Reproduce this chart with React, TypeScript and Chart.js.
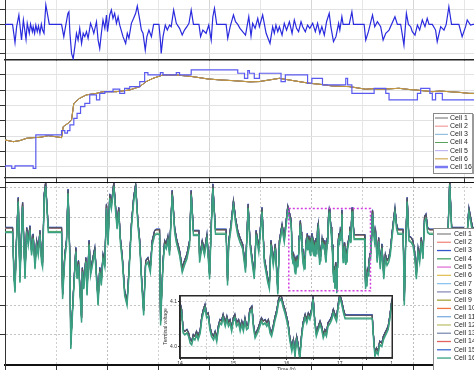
import React, { useEffect, useRef } from "react";
import { Chart, registerables } from "chart.js";

Chart.register(...registerables);
Chart.defaults.font.family = "'Liberation Sans', Arial, sans-serif";

// ---------------- data ----------------
const timeMin = 0;
const timeMax = 24;
const timeGridTicks = [0, 2.5, 5, 7.5, 10, 12.5, 15, 17.5, 20, 22.5];

// Panel 1: pack current (A) vs time (h)
const currentTicks = [-20, -10, 0, 10];
const currentRange = [-24.3, 16.6];
const currentSamples: [number, number][] = [
  [0, 0], [0.37, 0], [0.49, -12.5], [0.57, -1.6], [0.68, 6.4], [0.81, -10.7], [0.9, 3.0], [1.03, -10.2], [1.09, 0.7],
  [1.19, -6.1], [1.25, 0.2], [1.34, -5.0], [1.38, -1.6], [1.45, -6.1], [1.51, -0.5], [1.58, -5.0], [1.64, -1.1], [1.71, -6.1],
  [1.78, 0.2], [1.84, -3.9], [1.91, -6.1], [1.95, 3.0], [2.0, 13.2], [2.17, 0], [2.77, 0], [2.88, -8.4], [2.95, -2.7],
  [3.08, 7.5], [3.13, 8.6], [3.18, -6.1], [3.26, -19.8], [3.34, -23.5], [3.42, -15.2], [3.5, -6.1], [3.58, -10.7], [3.66, -2.7],
  [3.75, -13.0], [3.83, -6.1], [3.91, -8.4], [3.99, -5.0], [4.07, -9.5], [4.19, 0.7], [4.28, -2.7], [4.35, -6.1], [4.48, 1.8],
  [4.56, -10.7], [4.64, -16.4], [4.72, -6.1], [4.8, 3.0], [4.89, -2.7], [4.97, 6.4], [5.02, -5.0], [5.13, 6.4], [5.21, 9.8],
  [5.29, 4.1], [5.37, 7.5], [5.46, 0.7], [5.54, 5.2], [5.62, -0.5], [5.78, -8.4], [5.91, -13.0], [5.99, -6.1], [6.07, -9.5],
  [6.19, 0.7], [6.3, 4.1], [6.4, 7.5], [6.48, 12.5], [6.6, 3.0], [6.68, -3.9], [6.76, -6.1], [6.87, -17.5], [6.95, -8.4],
  [7.05, -3.9], [7.17, -8.4], [7.28, 0], [7.54, 0], [7.61, -10.7], [7.65, -19.8], [7.74, -8.4], [7.85, -0.5], [7.95, -3.9],
  [8.06, -0.5], [8.14, -1.6], [8.26, 9.8], [8.39, 0.7], [8.55, -2.7], [8.68, -7.3], [8.79, -3.9], [8.91, -1.6], [9.01, 0.7],
  [9.12, 9.8], [9.23, 0], [9.5, 0], [9.58, -8.4], [9.69, -3.9], [9.85, -6.1], [9.98, -0.5], [10.1, -10.7], [10.18, 5.2],
  [10.26, 10.9], [10.37, 0], [10.83, 0], [10.91, -9.5], [11.03, -1.6], [11.19, 6.4], [11.29, 1.8], [11.4, 0], [11.51, -2.7],
  [11.64, -5.0], [11.78, -7.3], [11.94, 5.2], [12.05, -8.0], [12.13, 0.7], [12.25, -2.7], [12.38, 4.1], [12.46, -1.6],
  [12.62, 6.4], [12.79, -6.1], [12.98, -13.0], [13.11, -1.6], [13.19, -6.1], [13.27, -0.5], [13.36, -5.0], [13.44, -1.6],
  [13.57, -7.3], [13.68, 0.7], [13.79, -3.9], [13.93, 1.8], [14.06, -6.1], [14.17, 3.0], [14.28, -2.7], [14.38, -5.0],
  [14.5, 1.8], [14.58, -1.6], [14.71, -5.0], [14.82, -0.5], [14.93, -2.7], [15.07, 0.7], [15.2, -5.0], [15.31, 0.7],
  [15.42, -6.1], [15.52, -1.6], [15.64, -7.3], [15.75, 1.8], [15.88, 7.5], [15.96, -1.6], [16.09, -11.8], [16.21, -8.4],
  [16.34, 0.7], [16.4, -3.9], [16.5, 5.2], [16.56, 0], [16.86, 0], [16.99, 8.6], [17.07, 0], [17.59, 0], [17.67, -10.7],
  [17.8, -5.0], [18.0, 6.4], [18.11, -1.6], [18.24, 1.8], [18.4, -1.6], [18.52, -10.7], [18.65, -6.1], [18.81, -3.9],
  [19.1, 5.2], [19.22, 0], [19.38, 0], [19.54, -14.1], [19.66, 7.5], [19.76, 0], [19.87, -1.6], [19.95, -5.0], [20.08, -7.3],
  [20.2, -0.5], [20.31, -3.9], [20.44, 3.0], [20.57, -1.6], [20.68, 4.1], [20.77, 0], [20.93, 0], [21.09, -3.9], [21.17, -11.8],
  [21.34, -1.6], [21.5, -3.9], [21.61, 0], [21.74, 12.0], [21.87, 0], [22.23, 0], [22.39, -8.4], [22.56, -1.6], [22.64, 3.0],
  [22.8, -0.5], [22.92, 0], [24, 0],
];

// Panel 2: cell temperature (°C)
const tempTicks = [24, 25, 26, 27, 28, 29, 30];
const tempRange = [23.28, 30.91];
const tempCellNames = ["Cell 1", "Cell 2", "Cell 3", "Cell 4", "Cell 5", "Cell 6", "Cell 16"];
const tempCellColors = ["#6a6a6a", "#ee8a8a", "#7fb2d8", "#5aa25a", "#b6a8f0", "#c99a3a", "#5a5af0"];
const tempCellsSamples: [number, number][] = [
  [0, 25.76], [0.41, 25.65], [0.73, 25.72], [1.06, 25.87], [1.38, 25.91], [1.71, 25.93], [2.12, 26.04], [2.44, 25.98],
  [2.77, 25.91], [2.85, 26.63], [3.09, 26.85], [3.26, 27.07], [3.37, 28.15], [3.66, 28.48], [3.99, 28.7], [4.48, 28.8],
  [4.8, 28.91], [5.46, 28.91], [6.11, 29.02], [6.6, 29.24], [6.92, 29.57], [7.25, 29.78], [7.74, 30.0], [8.39, 30.0],
  [9.2, 29.89], [9.93, 29.74], [10.5, 29.68], [11.16, 29.63], [12.0, 29.55], [12.46, 29.57], [13.44, 29.78], [13.93, 29.67],
  [14.9, 29.46], [15.5, 29.38], [16.04, 29.28], [16.86, 29.24], [17.67, 29.07], [18.0, 29.1], [18.49, 29.07], [19.3, 29.13],
  [19.8, 29.05], [20.11, 29.02], [20.93, 28.91], [21.3, 28.95], [21.74, 28.91], [22.3, 28.86], [22.72, 28.8], [24, 28.78],
];
const tempCell16Samples: [number, number][] = [
  [0, 23.91], [0.33, 24.07], [0.49, 23.91], [1.38, 24.07], [1.51, 23.91], [2.77, 26.09], [2.93, 26.37], [3.06, 26.2],
  [3.18, 26.37], [3.37, 26.74], [3.53, 27.17], [3.7, 27.5], [3.91, 27.93], [4.15, 28.15], [4.48, 28.7], [4.64, 28.37],
  [4.89, 28.8], [5.29, 28.91], [5.62, 29.07], [5.86, 28.8], [6.11, 29.13], [6.6, 29.24], [6.84, 29.57], [7.0, 30.15],
  [7.61, 30.0], [7.74, 30.15], [8.39, 30.0], [8.55, 30.15], [9.12, 30.0], [11.4, 30.33], [11.73, 30.11], [11.89, 29.78],
  [11.97, 30.28], [12.21, 30.11], [12.46, 29.78], [13.52, 30.11], [13.73, 29.57], [14.82, 30.0], [15.03, 29.46],
  [15.55, 29.78], [16.69, 29.35], [16.78, 29.78], [16.99, 29.35], [18.08, 28.8], [18.65, 29.13], [18.81, 28.8],
  [20.2, 28.37], [20.36, 28.8], [20.81, 29.13], [20.93, 28.8], [21.09, 28.37], [21.42, 28.8], [21.58, 28.37], [24, 28.37],
];

// Panel 3: cell terminal voltage (V)
const voltTicks = [3.9, 3.95, 4.0, 4.05, 4.1, 4.15];
const voltRange = [3.849, 4.16];
const voltageSamples: [number, number][] = [
  [0, 4.081], [0.37, 4.081], [0.44, 4.002], [0.49, 3.979], [0.57, 4.07], [0.65, 4.132], [0.73, 3.996], [0.86, 4.124],
  [0.98, 4.002], [1.06, 4.081], [1.14, 4.059], [1.22, 4.084], [1.3, 4.042], [1.38, 4.07], [1.47, 4.019], [1.55, 4.059],
  [1.63, 4.042], [1.71, 4.076], [1.79, 4.03], [1.84, 4.022], [1.92, 4.138], [1.99, 4.158], [2.12, 4.081], [2.77, 4.081],
  [2.82, 3.968], [2.93, 4.036], [3.01, 4.059], [3.09, 4.146], [3.18, 4.03], [3.22, 3.883], [3.31, 3.945], [3.37, 3.985],
  [3.47, 4.047], [3.53, 4.002], [3.6, 4.025], [3.75, 3.928], [3.79, 4.013], [3.86, 3.985], [3.96, 4.03], [4.02, 3.974],
  [4.12, 4.059], [4.19, 4.008], [4.28, 4.025], [4.4, 4.047], [4.48, 4.002], [4.56, 3.957], [4.64, 4.013], [4.72, 3.991],
  [4.8, 4.036], [4.89, 4.022], [4.97, 4.121], [5.05, 4.059], [5.13, 4.138], [5.21, 4.121], [5.33, 4.158], [5.42, 4.115],
  [5.49, 4.087], [5.57, 4.115], [5.65, 4.064], [5.75, 4.03], [5.86, 3.974], [5.98, 3.957], [6.07, 4.008], [6.19, 4.087],
  [6.3, 4.132], [6.4, 4.155], [6.51, 4.093], [6.6, 4.059], [6.68, 4.002], [6.79, 3.94], [6.89, 4.025], [7.0, 4.03],
  [7.12, 4.013], [7.21, 4.059], [7.33, 4.076], [7.41, 4.078], [7.57, 4.078], [7.62, 3.923], [7.74, 4.025], [7.82, 4.059],
  [7.9, 4.053], [7.98, 4.067], [8.06, 4.042], [8.19, 4.144], [8.31, 4.081], [8.39, 4.064], [8.55, 4.042], [8.68, 4.013],
  [8.79, 4.025], [8.91, 4.036], [9.04, 4.059], [9.12, 4.144], [9.23, 4.076], [9.5, 4.076], [9.53, 4.03], [9.66, 4.059],
  [9.77, 4.042], [9.89, 4.07], [10.02, 4.002], [10.11, 4.093], [10.18, 4.155], [10.31, 4.078], [10.83, 4.078],
  [10.9, 3.991], [10.96, 4.059], [11.07, 4.087], [11.19, 4.127], [11.29, 4.098], [11.4, 4.076], [11.51, 4.064],
  [11.64, 4.053], [11.78, 4.013], [11.91, 4.121], [12.0, 4.059], [12.1, 4.03], [12.21, 4.002], [12.3, 4.076],
  [12.43, 4.047], [12.59, 4.115], [12.7, 4.03], [12.87, 3.996], [12.95, 3.985], [13.03, 4.059], [13.14, 4.025],
  [13.24, 4.053], [13.36, 3.976], [13.44, 4.059], [13.57, 4.087], [13.68, 4.064], [13.85, 4.118],
  [14.0, 4.097], [14.03, 4.082], [14.06, 4.037], [14.09, 4.033], [14.13, 4.037], [14.16, 4.03], [14.19, 4.015],
  [14.22, 4.011], [14.25, 4.026], [14.28, 4.022], [14.31, 4.033], [14.34, 4.022], [14.38, 4.037], [14.41, 4.067],
  [14.44, 4.082], [14.47, 4.093], [14.5, 4.071], [14.53, 4.074], [14.56, 4.045], [14.59, 4.03], [14.63, 4.022],
  [14.66, 4.033], [14.69, 4.018], [14.72, 4.045], [14.75, 4.059], [14.78, 4.056], [14.81, 4.071], [14.85, 4.052],
  [14.88, 4.067], [14.91, 4.052], [14.94, 4.059], [14.97, 4.041], [15.0, 4.063], [15.03, 4.071], [15.06, 4.052],
  [15.1, 4.059], [15.13, 4.041], [15.16, 4.056], [15.19, 4.041], [15.22, 4.063], [15.25, 4.045], [15.28, 4.048],
  [15.31, 4.082], [15.35, 4.089], [15.38, 4.048], [15.41, 4.026], [15.44, 4.033], [15.47, 4.041], [15.5, 4.052],
  [15.53, 4.063], [15.56, 4.056], [15.6, 4.059], [15.63, 4.052], [15.66, 4.059], [15.69, 4.037], [15.72, 4.03],
  [15.75, 4.045], [15.78, 4.063], [15.82, 4.082], [15.85, 4.104], [15.88, 4.113], [15.91, 4.108], [15.94, 4.093],
  [15.97, 4.082], [16.0, 4.067], [16.03, 4.052], [16.06, 4.022], [16.1, 3.996], [16.13, 4.015], [16.16, 3.985],
  [16.19, 4.022], [16.22, 4.004], [16.25, 3.978], [16.28, 4.022], [16.31, 4.052], [16.35, 4.071], [16.38, 4.059],
  [16.41, 4.074], [16.44, 4.067], [16.47, 4.082], [16.5, 4.111], [16.53, 4.059], [16.56, 4.03], [16.6, 4.045],
  [16.63, 4.056], [16.66, 4.045], [16.69, 4.026], [16.72, 4.037], [16.75, 4.03], [16.78, 4.052], [16.82, 4.059],
  [16.85, 4.067], [16.88, 4.082], [16.91, 4.071], [16.94, 4.063], [16.97, 4.093], [17.0, 4.115], [17.03, 4.104],
  [17.07, 4.082], [17.1, 4.069], [17.61, 4.069], [17.63, 4.03], [17.66, 3.985], [17.69, 3.996], [17.72, 3.989],
  [17.75, 4.011], [17.79, 4.007], [17.82, 4.022], [17.85, 4.03], [17.88, 4.037], [17.91, 4.045], [17.94, 4.067],
  [17.97, 4.096], [18.0, 4.111],
  [18.05, 4.085], [18.1, 4.064], [18.15, 4.076], [18.23, 4.03], [18.3, 4.064], [18.38, 4.019], [18.46, 4.053],
  [18.55, 4.002], [18.63, 4.036], [18.71, 4.025], [18.79, 4.03], [18.87, 4.042], [18.95, 4.07], [19.1, 4.115],
  [19.18, 4.087], [19.25, 4.078], [19.5, 4.078], [19.56, 3.957], [19.62, 4.053], [19.7, 4.132], [19.78, 4.067],
  [19.9, 4.064], [19.98, 4.059], [20.06, 4.042], [20.15, 4.002], [20.23, 4.047], [20.31, 4.03], [20.39, 4.064],
  [20.47, 4.036], [20.55, 4.1], [20.62, 4.104], [20.7, 4.081], [20.8, 4.078], [21.0, 4.078], [21.15, 4.06], [21.3, 4.072],
  [21.5, 4.07], [21.62, 4.078], [21.7, 4.078], [21.78, 4.161], [21.88, 4.081], [22.45, 4.081], [22.55, 4.03],
  [22.72, 4.115], [22.8, 4.1], [22.9, 4.081], [24, 4.081],
];
const voltCellNames = [
  "Cell 1", "Cell 2", "Cell 3", "Cell 4", "Cell 5", "Cell 6", "Cell 7", "Cell 8",
  "Cell 9", "Cell 10", "Cell 11", "Cell 12", "Cell 13", "Cell 14", "Cell 15", "Cell 16",
];
const voltCellColors = [
  "#555555", "#ef8c80", "#3557c8", "#46a266", "#e074d8", "#e2c25e", "#8cc4ee", "#8e8eb8",
  "#a3a33e", "#ef7444", "#7eaee0", "#c2c272", "#7d8db0", "#e06262", "#3f6fd2", "#3aa083",
];
const voltCellOffsets = [0.001, 0.001, 0.0018, -0.005, 0.001, 0.001, 0.001, 0.001, 0.001, 0.001, 0.001, 0.001, 0.001, 0.001, 0.0018, -0.007];
const voltCellOrder = [2, 6, 3, 1, 7, 8, 9, 10, 11, 12, 13, 14, 15, 16, 4, 0];

// Inset (zoom window)
const insetTimeTicks = [14, 14.5, 15, 15.5, 16, 16.5, 17, 17.5, 18];
const insetTimeRange = [14, 18];
const insetVoltTicks = [4.0, 4.1];
const insetVoltRange = [3.975, 4.115];
const zoomWindowTime = [13.9, 17.9];

// ---------------- helpers ----------------
const pts = (s: [number, number][], off = 0) => s.map(([x, y]) => ({ x, y: y + off }));

function mainScales(yRange: number[], yTicks: number[], dashed: boolean, bottomBorder: { color: string; width: number }) {
  const gridColor = (c: any) => (c.tick && c.tick.value % 5 === 0 ? (dashed ? "#bdbdbd" : "#d6d6d6") : dashed ? "#cfcfcf" : "#e6e6e6");
  return {
    x: {
      type: "linear",
      min: timeMin,
      max: timeMax,
      ticks: { display: false },
      afterBuildTicks: (s: any) => { s.ticks = timeGridTicks.map((v) => ({ value: v })); },
      afterFit: (s: any) => { s.height = 5; s.paddingLeft = 0; s.paddingRight = 0; },
      grid: { color: gridColor, tickColor: "#333", tickLength: 5, lineWidth: 1 },
      border: { color: bottomBorder.color, width: bottomBorder.width, dash: dashed ? [2, 2] : [] },
    },
    y: {
      type: "linear",
      min: yRange[0],
      max: yRange[1],
      ticks: { display: false },
      afterBuildTicks: (s: any) => { s.ticks = yTicks.map((v) => ({ value: v })); },
      afterFit: (s: any) => { s.width = 5; s.paddingTop = 0; s.paddingBottom = 0; },
      grid: { color: dashed ? "#c4c4c4" : "#e2e2e2", tickColor: "#333", tickLength: 5, lineWidth: 1 },
      border: { color: "#333", width: 1, dash: dashed ? [2, 2] : [] },
    },
  };
}

const baseOpts = {
  animation: false,
  responsive: false,
  devicePixelRatio: 1,
  events: [],
  layout: { padding: 0 },
  plugins: { legend: { display: false }, tooltip: { enabled: false } },
  elements: { point: { radius: 0 }, line: { tension: 0, borderWidth: 1 } },
};

function legendPlugin(id: string, items: { label: string; color: string; width: number }[], box: number[], row0: number, step: number, s0: number, s1: number, tx: number) {
  return {
    id,
    afterDraw(chart: any) {
      const ctx = chart.ctx;
      ctx.save();
      ctx.fillStyle = "#ffffff";
      ctx.fillRect(box[0], box[1], box[2], box[3]);
      ctx.strokeStyle = "#8a8a8a";
      ctx.lineWidth = 1;
      ctx.strokeRect(box[0] + 0.5, box[1] + 0.5, box[2], box[3]);
      ctx.font = "7px 'Liberation Sans', Arial, sans-serif";
      ctx.textBaseline = "middle";
      items.forEach((it, i) => {
        const y = row0 + i * step;
        ctx.strokeStyle = it.color;
        ctx.lineWidth = it.width;
        ctx.beginPath();
        ctx.moveTo(s0, y);
        ctx.lineTo(s1, y);
        ctx.stroke();
        ctx.fillStyle = "#222";
        ctx.fillText(it.label, tx, y);
      });
      ctx.restore();
    },
  };
}

function voltDatasets(scale: number) {
  return voltCellNames.map((name, i) => ({
    label: name,
    data: pts(voltageSamples, voltCellOffsets[i]),
    borderColor: voltCellColors[i],
    borderWidth: (i === 15 ? 1.4 : i === 0 || i === 2 ? 1.2 : 1) * scale,
    pointRadius: 0,
    order: voltCellOrder[i],
  }));
}

export default function App() {
  const refA = useRef<HTMLCanvasElement>(null);
  const refB = useRef<HTMLCanvasElement>(null);
  const refC = useRef<HTMLCanvasElement>(null);
  const refD = useRef<HTMLCanvasElement>(null);

  useEffect(() => {
    const charts: Chart[] = [];

    charts.push(
      new Chart(refA.current!, {
        type: "line",
        data: { datasets: [{ label: "Current", data: pts(currentSamples), borderColor: "#2a2ade", borderWidth: 1.2, pointRadius: 0 }] },
        options: { ...baseOpts, scales: mainScales(currentRange, currentTicks, false, { color: "#222", width: 1.5 }) } as any,
      })
    );

    const tempSets: any[] = tempCellNames.slice(0, 6).map((name, i) => ({
      label: name,
      data: pts(tempCellsSamples),
      borderColor: tempCellColors[i],
      borderWidth: 1,
      pointRadius: 0,
      order: i === 5 ? 1 : 2 + i,
    }));
    tempSets.push({
      label: tempCellNames[6],
      data: pts(tempCell16Samples),
      borderColor: tempCellColors[6],
      borderWidth: 1.2,
      pointRadius: 0,
      stepped: "after",
      order: 0,
    });
    charts.push(
      new Chart(refB.current!, {
        type: "line",
        data: { datasets: tempSets },
        options: { ...baseOpts, scales: mainScales(tempRange, tempTicks, false, { color: "#333", width: 1.2 }) } as any,
        plugins: [
          legendPlugin(
            "legendTemp",
            tempCellNames.map((l, i) => ({ label: l, color: i === 6 ? "#7a7af2" : tempCellColors[i], width: i === 6 ? 2.5 : 1 })),
            [433, 52, 39, 60], 57, 8.17, 435, 448, 450
          ),
          {
            id: "shadow",
            afterDraw(chart: any) {
              const ctx = chart.ctx;
              ctx.save();
              ctx.fillStyle = "#9a9a9a";
              ctx.fillRect(472, 53, 2, 60);
              ctx.restore();
            },
          },
        ],
      })
    );

    charts.push(
      new Chart(refC.current!, {
        type: "line",
        data: { datasets: voltDatasets(1) },
        options: { ...baseOpts, scales: mainScales(voltRange, voltTicks, true, { color: "#111", width: 2 }) } as any,
        plugins: [
          {
            id: "frameAndWindow",
            afterDatasetsDraw(chart: any) {
              const { ctx, chartArea, scales } = chart;
              ctx.save();
              ctx.strokeStyle = "#111";
              ctx.lineWidth = 2;
              ctx.beginPath();
              ctx.moveTo(chartArea.left, chartArea.top);
              ctx.lineTo(chartArea.right, chartArea.top);
              ctx.stroke();
              const x1 = scales.x.getPixelForValue(zoomWindowTime[0]);
              const x2 = scales.x.getPixelForValue(zoomWindowTime[1]);
              const y1 = scales.y.getPixelForValue(insetVoltRange[1]);
              const y2 = scales.y.getPixelForValue(insetVoltRange[0]);
              ctx.strokeStyle = "#d23ee0";
              ctx.lineWidth = 1.5;
              ctx.setLineDash([2, 2]);
              ctx.strokeRect(x1, y1, x2 - x1, y2 - y1);
              ctx.restore();
            },
          },
          legendPlugin(
            "legendVolt",
            voltCellNames.map((l, i) => ({ label: l, color: voltCellColors[i] === "#555555" ? "#8a8a8a" : voltCellColors[i], width: 1.3 })),
            [433, 46, 60, 150], 52, 8.27, 437, 451, 454
          ),
        ],
      })
    );

    charts.push(
      new Chart(refD.current!, {
        type: "line",
        data: { datasets: voltDatasets(1) },
        options: {
          ...baseOpts,
          scales: {
            x: {
              type: "linear",
              min: insetTimeRange[0],
              max: insetTimeRange[1],
              afterBuildTicks: (s: any) => { s.ticks = insetTimeTicks.map((v) => ({ value: v })); },
              afterFit: (s: any) => { s.height = 15; s.paddingLeft = 0; s.paddingRight = 0; },
              ticks: {
                autoSkip: false,
                maxRotation: 0,
                padding: 1,
                color: "#333",
                font: { size: 5 },
                callback: (v: any) => (Number.isInteger(v) ? String(v) : ""),
              },
              title: { display: true, text: "Time (h)", font: { size: 5 }, padding: 0, color: "#333" },
              grid: { color: "#cfcfcf", tickColor: "#333", tickLength: 2 },
              border: { color: "#222", width: 1.5, dash: [2, 2] },
            },
            y: {
              type: "linear",
              min: insetVoltRange[0],
              max: insetVoltRange[1],
              afterBuildTicks: (s: any) => { s.ticks = insetVoltTicks.map((v) => ({ value: v })); },
              afterFit: (s: any) => { s.width = 17; s.paddingTop = 0; s.paddingBottom = 0; },
              ticks: { padding: 1, color: "#333", font: { size: 5 }, callback: (v: any) => Number(v).toFixed(1) },
              title: { display: true, text: "Terminal voltage", font: { size: 5 }, padding: 0, color: "#333" },
              grid: { color: "#cfcfcf", tickColor: "#333", tickLength: 2 },
              border: { color: "#222", width: 1.5, dash: [2, 2] },
            },
          },
        } as any,
        plugins: [
          {
            id: "insetBg",
            beforeDraw(chart: any) {
              const { ctx, chartArea } = chart;
              ctx.save();
              ctx.fillStyle = "#ffffff";
              ctx.fillRect(chartArea.left, chartArea.top, chartArea.right - chartArea.left, chartArea.bottom - chartArea.top);
              ctx.restore();
            },
            afterDraw(chart: any) {
              const { ctx, chartArea } = chart;
              ctx.save();
              ctx.strokeStyle = "#2a2a2a";
              ctx.lineWidth = 1.5;
              ctx.strokeRect(chartArea.left, chartArea.top + 0.75, chartArea.right - chartArea.left - 0.75, chartArea.bottom - chartArea.top - 0.75);
              ctx.restore();
            },
          },
        ],
      })
    );

    return () => charts.forEach((c) => c.destroy());
  }, []);

  const abs = (left: number, top: number): React.CSSProperties => ({ position: "absolute", left, top, display: "block" });
  return (
    <div style={{ position: "fixed", left: 0, top: 0, width: 474, height: 370, overflow: "hidden", background: "#fff" }}>
      <canvas ref={refA} width={495} height={65} style={abs(0, 0)} />
      <canvas ref={refB} width={495} height={122} style={abs(0, 61)} />
      <canvas ref={refC} width={495} height={188} style={abs(0, 182)} />
      <canvas ref={refD} width={230} height={78} style={abs(163, 295)} />
    </div>
  );
}
